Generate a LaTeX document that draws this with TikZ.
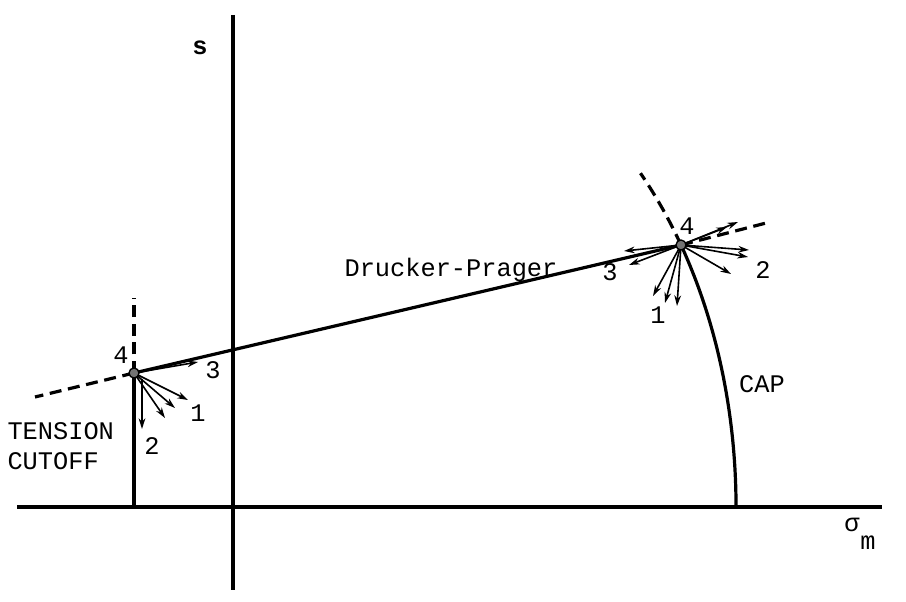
\documentclass[tikz,border=0pt]{standalone}
\usepackage{fontspec}
\newfontfamily\tyfont{Liberation Mono}
\usetikzlibrary{arrows.meta}

\tikzset{every picture/.style={line width=0.75pt}}
\tikzset{
  axisline/.style={line width=2.6pt},
  yieldline/.style={line width=2.4pt},
  dashext/.style={line width=2.4pt, dash pattern=on 9pt off 5pt},
  flowvec/.style={line width=1.2pt, -{Stealth[length=8pt,width=5pt]}},
  cornerdot/.style={draw, line width=1pt, fill=black!55},
  lbl/.style={font=\tyfont\fontsize{19}{21}\selectfont, inner sep=0pt},
}

\begin{document}
\begin{tikzpicture}[x=0.75pt,y=0.75pt,yscale=-1,xscale=1]
	\useasboundingbox (0,0) rectangle (906,602);

	% axes ends
	\coordinate (sTop) at (233,15);
	\coordinate (sBot) at (233,590);
	\coordinate (mLeft) at (17,507);
	\coordinate (mRight) at (882,507);
	% corners of the yield surface
	\coordinate (A) at (134,373);
	\coordinate (B) at (681,245);
	\coordinate (Aup) at (134,298);
	\coordinate (Aleft) at (35,397);
	\coordinate (Bright) at (770,222);

	%Straight Lines: axes
	\draw [axisline] (sTop) -- (sBot) ;
	\draw [axisline] (mLeft) -- (mRight) ;

	%Straight Lines: Drucker-Prager
	\draw [yieldline] (A) -- (B) ;
	\draw [dashext] (A) -- (Aleft) ;
	\draw [dashext] (B) -- (Bright) ;
	%Straight Lines: tension cutoff
	\draw [yieldline] (A) -- (A |- mLeft) ;
	\draw [dashext] (A) -- (Aup) ;
	%Shape: Arc (cap)
	\draw [yieldline] (B) arc [start angle=-33.25, end angle=0, x radius=336, y radius=478] ;
	\draw [dashext] (B) arc [start angle=-33.25, end angle=-44.3, x radius=336, y radius=478] ;

	% flow vectors at A
	\coordinate (A2) at (142,379);
	\coordinate (a3) at (198,362);
	\coordinate (a1a) at (188,400);
	\coordinate (a1b) at (175,408);
	\coordinate (a1c) at (165,418);
	\coordinate (a2) at (142,429);
	\draw [flowvec] (A) -- (a3) ;
	\draw [flowvec] (A) -- (a1a) ;
	\draw [flowvec] (A) -- (a1b) ;
	\draw [flowvec] (A) -- (a1c) ;
	\draw [flowvec] (A2) -- (a2) ;

	% flow vectors at B
	\coordinate (b3a) at (624,251);
	\coordinate (b3b) at (629,265);
	\coordinate (b4a) at (738,222);
	\coordinate (b4b) at (727,227);
	\coordinate (b2a) at (749,250);
	\coordinate (b2b) at (748,257);
	\coordinate (b2c) at (731,274);
	\coordinate (b1a) at (653,296);
	\coordinate (b1b) at (665,303);
	\coordinate (b1c) at (677,306);
	\draw [flowvec] (B) -- (b3a) ;
	\draw [flowvec] (B) -- (b3b) ;
	\draw [flowvec] (B) -- (b4a) ;
	\draw [flowvec] (B) -- (b4b) ;
	\draw [flowvec] (B) -- (b2a) ;
	\draw [flowvec] (B) -- (b2b) ;
	\draw [flowvec] (B) -- (b2c) ;
	\draw [flowvec] (B) -- (b1a) ;
	\draw [flowvec] (B) -- (b1b) ;
	\draw [flowvec] (B) -- (b1c) ;

	%Shape: Circle (corner dots)
	\draw [cornerdot] (A) circle [radius=5] ;
	\draw [cornerdot] (B) circle [radius=5] ;

	% Text Node
	\node [lbl, font=\tyfont\bfseries\fontsize{19}{21}\selectfont] (sLbl) at (200,48) {s};
	% Text Node
	\node [lbl] (sigLbl) at (852,525) {σ};
	\node [lbl] (mLbl) at (868,543) {m};
	% Text Node
	\node [lbl] (dpLbl) at (451,270) {Drucker-Prager};
	% Text Node
	\node [lbl] (capLbl) at (762,384) {CAP};
	% Text Node
	\node [lbl, anchor=west] (tenLbl) at (7,431) {TENSION};
	\node [lbl, anchor=west] (cutLbl) at (7,461) {CUTOFF};
	% Text Node
	\node [lbl] (a4Lbl) at (121,355) {4};
	\node [lbl] (a3Lbl) at (213,370) {3};
	\node [lbl] (a1Lbl) at (198,413) {1};
	\node [lbl] (a2Lbl) at (152,446) {2};
	% Text Node
	\node [lbl] (b4Lbl) at (687,226) {4};
	\node [lbl] (b3Lbl) at (610,272) {3};
	\node [lbl] (b2Lbl) at (763,270) {2};
	\node [lbl] (b1Lbl) at (658,315) {1};

\end{tikzpicture}
\end{document}
